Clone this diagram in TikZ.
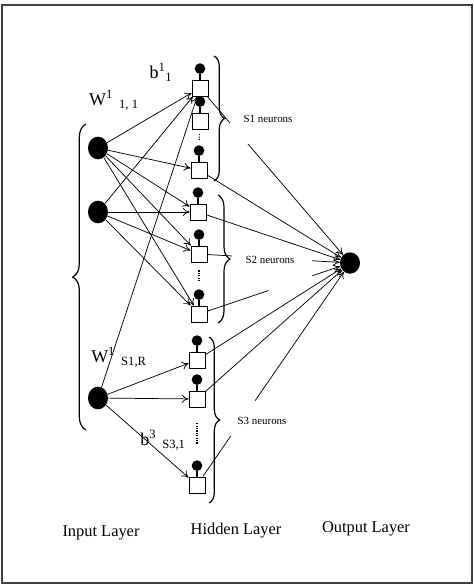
\documentclass[tikz,border=0pt]{standalone}
\usepackage{fontspec}
\setmainfont{Liberation Serif}
\usetikzlibrary{shapes,arrows.meta,positioning,calc,decorations.pathreplacing}

\begin{document}
\begin{tikzpicture}[
    x=0.75pt, y=-0.75pt,
    inneuron/.style={ellipse, fill=black, minimum width=15pt, minimum height=17pt, inner sep=0pt},
    outneuron/.style={ellipse, fill=black, minimum width=15pt, minimum height=16pt, inner sep=0pt},
    unit/.style={rectangle, draw=black, fill=white, minimum size=12pt, inner sep=0pt, line width=0.7pt},
    bias/.style={circle, fill=black, minimum size=8pt, inner sep=0pt},
    arrow/.style={->, >={To[length=5pt,width=6pt]}, line width=0.55pt},
    link/.style={line width=0.55pt},
    grpbrace/.style={decorate, decoration={brace, amplitude=#1}, line width=0.9pt},
    note/.style={font=\fontsize{8.2}{10}\selectfont},
    layer/.style={font=\fontsize{12.3}{14}\selectfont},
    wlabel/.style={font=\fontsize{13.5}{15}\selectfont, inner sep=1pt}
]
\useasboundingbox (0,0) rectangle (474,587);

% Frame
\draw[line width=1.2pt, black!75] (2,5) rectangle (472,583);

% Input Layer
\node[inneuron] (in1) at (98,148) {};
\node[inneuron] (in2) at (98,212) {};
\node[inneuron] (in3) at (98,398) {};

% Hidden Layer
\node[unit] (h11) at (200,88) {};
\node[unit] (h12) at (200,121) {};
\node[unit] (h13) at (199,170) {};
\node[unit] (h21) at (198,212) {};
\node[unit] (h22) at (199,254) {};
\node[unit] (h23) at (199,314) {};
\node[unit] (h31) at (197,360) {};
\node[unit] (h32) at (197,399) {};
\node[unit] (h33) at (197,485) {};

% Biases
\foreach \n in {11,12,13,21,22,23,31,32,33} {
    \node[bias, above=4pt of h\n] (b\n) {};
    \draw[line width=0.8pt] (b\n) -- (h\n);
}

% Vertical dots
\foreach \g in {1,2,3}
    \draw[densely dotted, line width=0.8pt] ($(h\g2.south)!0.3!(b\g3.north)$) -- ($(h\g2.south)!0.7!(b\g3.north)$);

% Output Layer
\node[outneuron] (out) at (350,263) {};

% Arrows
\foreach \h in {11,13,21,22,23} \draw[arrow] (in1) -- (h\h);
\foreach \h in {11,21,22,23} \draw[arrow] (in2) -- (h\h);
\foreach \h in {11,31,32,33} \draw[arrow] (in3) -- (h\h);

\foreach \h in {13,21,31,32} \draw[arrow] (h\h) -- (out);
\foreach \h/\a/\b in {11/0.2/0.32, 22/0.22/0.75, 23/0.46/0.75, 33/0.22/0.38} {
    \draw[link] (h\h) -- ($(h\h)!\a!(out)$);
    \draw[arrow] ($(h\h)!\b!(out)$) -- (out);
}

% Braces
\draw[grpbrace=10pt] (86,430) -- (86,124);
\draw[grpbrace=8pt] (214,56) -- (214,181);
\draw[grpbrace=9pt] (218,195) -- (218,323);
\draw[grpbrace=8pt] (209,337) -- (209,503);

% Weight and bias labels
\node[wlabel] (w11) at (114,100) {W\textsuperscript{1}\,\,\textsubscript{1, 1}};
\node[wlabel] (bb11) at (161,72) {b\textsuperscript{1}\textsubscript{1}};
\node[wlabel] (wsr) at (119,357) {W\textsuperscript{1}\,\,\textsubscript{S1,R}};
\node[wlabel] (bb3) at (163,440) {b\textsuperscript{3}\,\,\textsubscript{S3,1}};

% Group labels
\node[note] (s1) at (268,119) {S1 neurons};
\node[note] (s2) at (270,260) {S2 neurons};
\node[note] (s3) at (262,421) {S3 neurons};

% Layer labels
\node[layer] (inlab) at (101,533) {Input Layer};
\node[layer] (hidlab) at (236,531) {Hidden Layer};
\node[layer] (outlab) at (366,529) {Output Layer};

\end{tikzpicture}
\end{document}
